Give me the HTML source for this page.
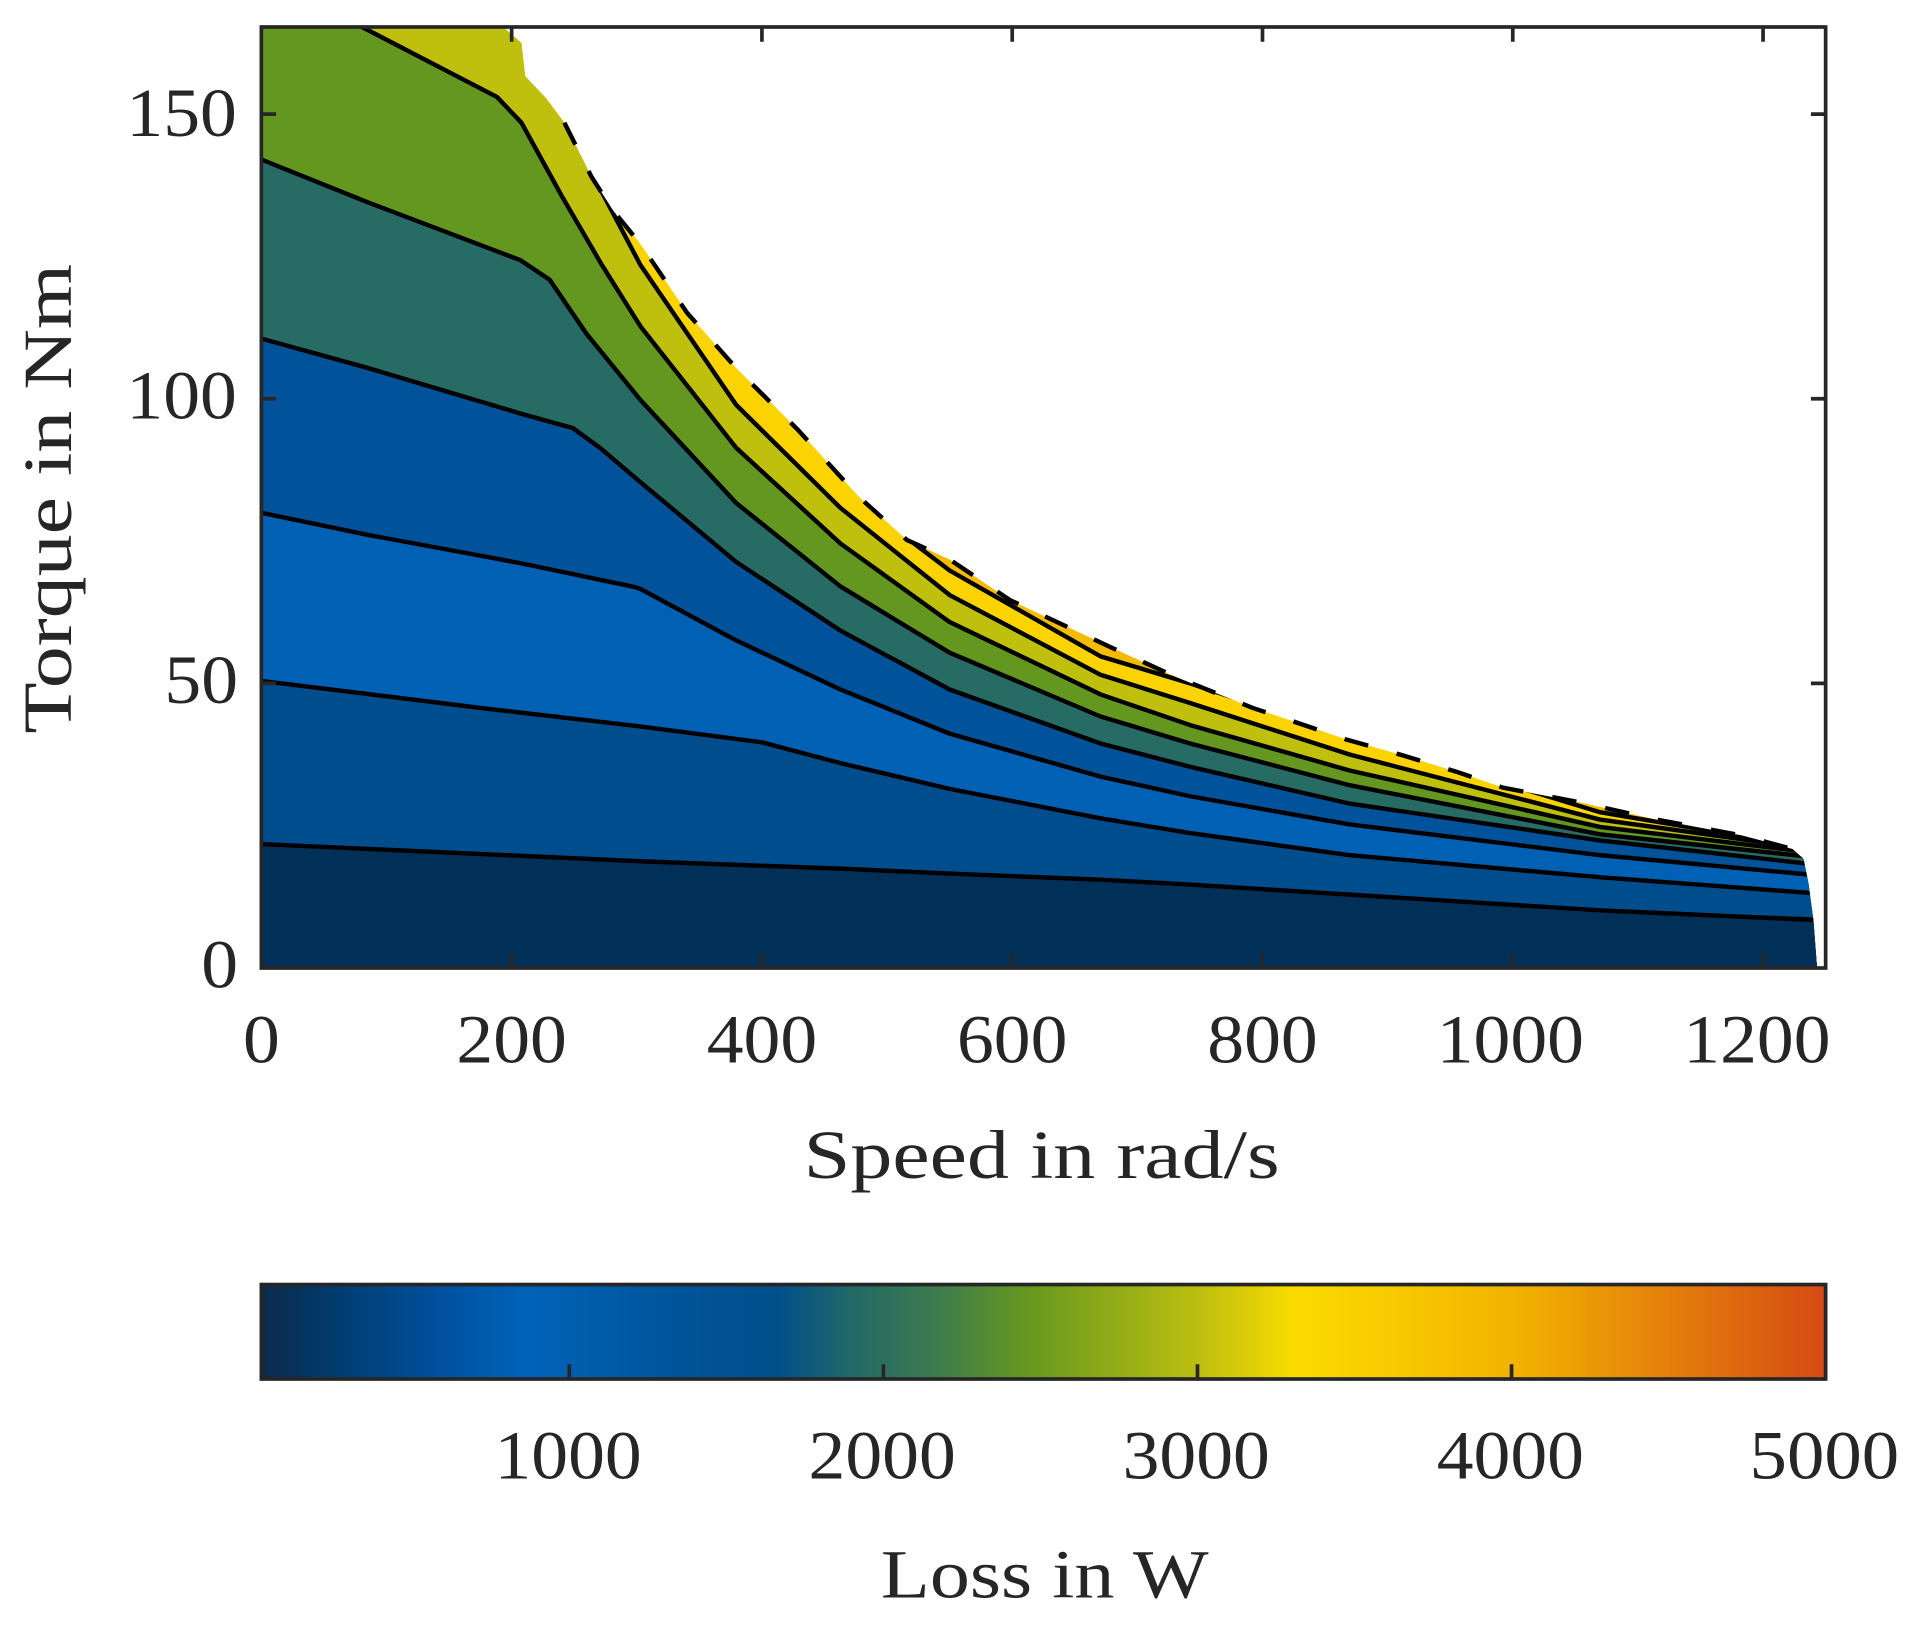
<!DOCTYPE html>
<html><head><meta charset="utf-8"><style>
html,body{margin:0;padding:0;background:#fff;}
svg{display:block;}
text{font-family:"Liberation Serif",serif;fill:#262626;}
</style></head><body>
<svg width="1914" height="1625" viewBox="0 0 1560 1324.5" xmlns="http://www.w3.org/2000/svg">
<defs>
<clipPath id="env"><polygon points="213,22 410,22 425,35 428,62 445,80 460,100 482,144 500,172 522,199 560,255 600,300 650,350 700,405 739,440 774,456 823,489 902,526 959,552 1021,577 1060,590 1098,603 1141,615 1187,629 1225,642 1288,654 1350,668 1420,681 1461,692 1470,700 1474,720 1478,750 1481,789 213,789"/></clipPath>
<linearGradient id="cb" x1="0" x2="1" y1="0" y2="0">
<stop offset="0" stop-color="#0c2a4a"/>
<stop offset="0.05" stop-color="#003d70"/>
<stop offset="0.12" stop-color="#0052a2"/>
<stop offset="0.17" stop-color="#0063b8"/>
<stop offset="0.25" stop-color="#00569e"/>
<stop offset="0.33" stop-color="#004f8a"/>
<stop offset="0.38" stop-color="#246a66"/>
<stop offset="0.43" stop-color="#3c7a50"/>
<stop offset="0.49" stop-color="#66981f"/>
<stop offset="0.6" stop-color="#bdbf10"/>
<stop offset="0.66" stop-color="#fadb00"/>
<stop offset="0.73" stop-color="#f8c800"/>
<stop offset="0.8" stop-color="#f2b300"/>
<stop offset="0.87" stop-color="#e88f08"/>
<stop offset="1" stop-color="#d64a14"/>
</linearGradient>
</defs>
<g clip-path="url(#env)">
<rect x="213" y="0" width="1280" height="789" fill="#f5bb00"/>
<polygon fill="#fad300" points="213,0 745,0 745,443 774,465 897,535 970,557 1100,600 1304,662 1470,690 1495,692 1495,789 213,789"/>
<polygon fill="#bfc00d" points="213,0 486,0 486,148 522,216 600,330 685,414 774,485 897,550 970,573 1100,615 1304,668 1470,691 1495,693 1495,789 213,789"/>
<polygon fill="#64971f" points="213,0 295,0 295,22 405,79 425,100 458,160 490,215 522,266 600,365 685,443 774,507 897,566 970,591 1100,628 1304,674 1470,694 1495,696 1495,789 213,789"/>
<polygon fill="#266c64" points="213,130 300,165 424,212 448,228 478,272 522,326 600,410 685,478 774,532 897,584 970,606 1100,640 1304,680 1470,698 1495,700 1495,789 213,789"/>
<polygon fill="#00529a" points="213,276 300,300 424,337 467,349 489,365 522,393 600,458 685,514 774,562 897,606 970,625 1100,655 1304,685 1470,704 1495,706 1495,789 213,789"/>
<polygon fill="#0060b3" points="213,418 300,436 424,459 515,478 522,480 600,522 685,562 774,598 897,633 970,649 1100,672 1304,697 1470,713 1495,715 1495,789 213,789"/>
<polygon fill="#004d8e" points="213,555 400,578 521,592 621,605 685,622 774,643 897,667 970,679 1100,697 1304,715 1470,728 1495,730 1495,789 213,789"/>
<polygon fill="#002f57" points="213,688 522,702 685,708 774,712 897,717 970,721 1304,742 1470,747 1495,749 1495,789 213,789"/>
<g fill="none" stroke="#000" stroke-width="3.6" stroke-linejoin="round">
<polyline points="745,443 774,465 897,535 970,557 1100,600 1304,662 1470,690"/>
<polyline points="486,148 522,216 600,330 685,414 774,485 897,550 970,573 1100,615 1304,668 1470,691"/>
<polyline points="295,22 405,79 425,100 458,160 490,215 522,266 600,365 685,443 774,507 897,566 970,591 1100,628 1304,674 1470,694"/>
<polyline points="213,130 300,165 424,212 448,228 478,272 522,326 600,410 685,478 774,532 897,584 970,606 1100,640 1304,680 1472,698"/>
<polyline points="213,276 300,300 424,337 467,349 489,365 522,393 600,458 685,514 774,562 897,606 970,625 1100,655 1304,685 1474,704"/>
<polyline points="213,418 300,436 424,459 515,478 522,480 600,522 685,562 774,598 897,633 970,649 1100,672 1304,697 1476,713"/>
<polyline points="213,555 400,578 521,592 621,605 685,622 774,643 897,667 970,679 1100,697 1304,715 1478,728"/>
<polyline points="213,688 522,702 685,708 774,712 897,717 970,721 1304,742 1482,750"/>
</g>
</g>
<polyline fill="none" stroke="#000" stroke-width="3.6" stroke-dasharray="20,24" points="460,100 482,144 500,172 522,199 560,255 600,300 650,350 700,405 739,440 774,456 823,489 902,526 959,552 1021,577 1060,590 1098,603 1141,615 1187,629 1225,642 1288,654 1350,668 1420,681 1461,692"/>
<g stroke="#262626" stroke-width="3" fill="none">
<rect x="213" y="22" width="1275" height="767"/>
<path d="M417,789v-12M621,789v-12M825,789v-12M1029,789v-12M1233,789v-12M1437,789v-12M417,22v12M621,22v12M825,22v12M1029,22v12M1233,22v12M1437,22v12M213,557h12M213,325h12M213,93h12M1488,557h-12M1488,325h-12M1488,93h-12"/>
</g>
<g font-size="56" text-anchor="middle">
<text x="213" y="866" textLength="30" lengthAdjust="spacingAndGlyphs">0</text>
<text x="417" y="866" textLength="90" lengthAdjust="spacingAndGlyphs">200</text>
<text x="621" y="866" textLength="90" lengthAdjust="spacingAndGlyphs">400</text>
<text x="825" y="866" textLength="90" lengthAdjust="spacingAndGlyphs">600</text>
<text x="1029" y="866" textLength="90" lengthAdjust="spacingAndGlyphs">800</text>
<text x="1231" y="866" textLength="120" lengthAdjust="spacingAndGlyphs">1000</text>
<text x="1432" y="866" textLength="120" lengthAdjust="spacingAndGlyphs">1200</text>
</g>
<g font-size="56">
<text x="164" y="805" textLength="30" lengthAdjust="spacingAndGlyphs">0</text>
<text x="134" y="573" textLength="60" lengthAdjust="spacingAndGlyphs">50</text>
<text x="103" y="341" textLength="90" lengthAdjust="spacingAndGlyphs">100</text>
<text x="103" y="111" textLength="90" lengthAdjust="spacingAndGlyphs">150</text>
</g>
<text x="655" y="960" font-size="56" textLength="388" lengthAdjust="spacingAndGlyphs">Speed in rad/s</text>
<text transform="translate(58,598) rotate(-90)" font-size="56" textLength="383" lengthAdjust="spacingAndGlyphs">Torque in Nm</text>
<rect x="213" y="1047" width="1275" height="77" fill="url(#cb)" stroke="#262626" stroke-width="3"/>
<path d="M464,1124v-12M720,1124v-12M976,1124v-12M1232,1124v-12" stroke="#262626" stroke-width="3"/>
<g font-size="56">
<text x="403" y="1205" textLength="120" lengthAdjust="spacingAndGlyphs">1000</text>
<text x="659" y="1205" textLength="120" lengthAdjust="spacingAndGlyphs">2000</text>
<text x="915" y="1205" textLength="120" lengthAdjust="spacingAndGlyphs">3000</text>
<text x="1171" y="1205" textLength="120" lengthAdjust="spacingAndGlyphs">4000</text>
<text x="1426" y="1205" textLength="122" lengthAdjust="spacingAndGlyphs">5000</text>
</g>
<text x="718" y="1302" font-size="56" textLength="267" lengthAdjust="spacingAndGlyphs">Loss in W</text>
</svg>
</body></html>
